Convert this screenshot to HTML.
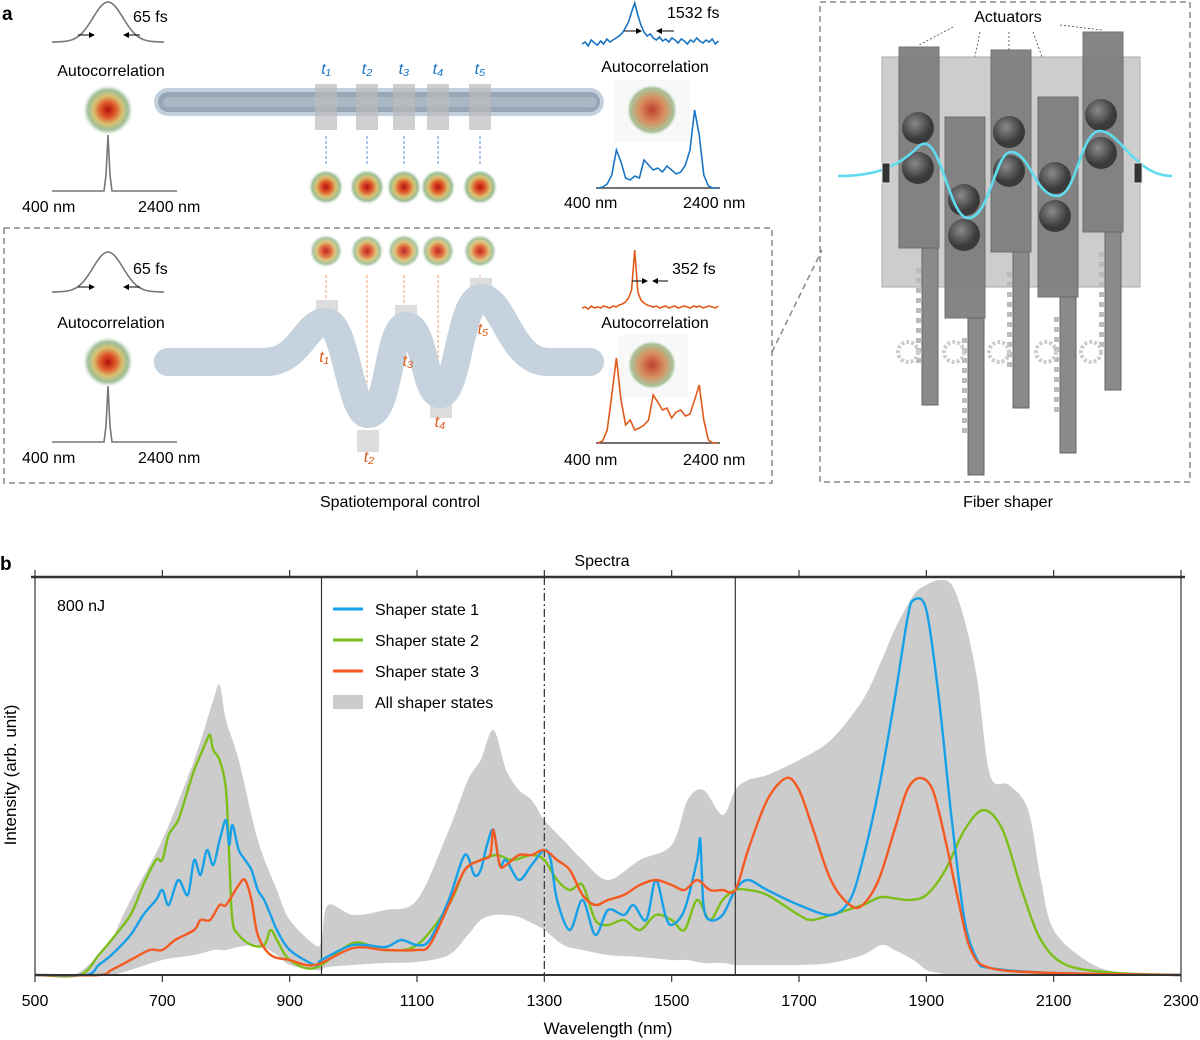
<!DOCTYPE html>
<html><head><meta charset="utf-8"><style>
html,body{margin:0;padding:0;background:#fff;}
svg{display:block;font-family:"Liberation Sans",Arial,sans-serif;}
</style></head><body>
<svg id="fig" width="1200" height="1040" viewBox="0 0 1200 1040" xmlns="http://www.w3.org/2000/svg">
<defs>
<radialGradient id="beam"><stop offset="0" stop-color="#b01010"/><stop offset="0.3" stop-color="#e05a2a"/><stop offset="0.55" stop-color="#d8c070"/><stop offset="0.78" stop-color="#9cc09a"/><stop offset="1" stop-color="#ffffff" stop-opacity="0"/></radialGradient>
<radialGradient id="speck"><stop offset="0" stop-color="#c04030"/><stop offset="0.5" stop-color="#d89060"/><stop offset="0.85" stop-color="#a8c49c"/><stop offset="1" stop-color="#ffffff" stop-opacity="0"/></radialGradient>
<radialGradient id="ball" cx="0.4" cy="0.35"><stop offset="0" stop-color="#8a8a8a"/><stop offset="1" stop-color="#3a3a3a"/></radialGradient>
<marker id="arr" markerWidth="6" markerHeight="6" refX="5" refY="3" orient="auto"><path d="M0,0 L6,3 L0,6 z" fill="#000"/></marker>
</defs>

<g>
<text x="2" y="20" font-size="19" font-weight="bold">a</text>

<g>
<path id="gA" fill="none" stroke="#777" stroke-width="1.6"/>
<line x1="78" y1="35" x2="94" y2="35" stroke="#000" marker-end="url(#arr)"/><line x1="140" y1="35" x2="124" y2="35" stroke="#000" marker-end="url(#arr)"/>
<text x="133" y="22" font-size="16">65 fs</text>
<text x="111" y="76" font-size="16" text-anchor="middle">Autocorrelation</text>
</g>
<circle cx="108" cy="110" r="26" fill="url(#beam)"/>
<g>
<path d="M52,191 L104,191 L106,175 L108,135 L110,175 L112,191 L177,191" fill="none" stroke="#777" stroke-width="1.6"/>
<text x="22" y="212" font-size="16">400 nm</text><text x="138" y="212" font-size="16">2400 nm</text>
</g>
<g>
<line x1="168" y1="102" x2="590" y2="102" stroke="#c3d0dd" stroke-width="28" stroke-linecap="round"/>
<line x1="168" y1="102" x2="590" y2="102" stroke="#97a6b5" stroke-width="20" stroke-linecap="round"/>
<line x1="168" y1="102" x2="592" y2="102" stroke="#aab8c6" stroke-width="10" stroke-linecap="round"/>
</g>
<g id="topBlocks"></g>

<g>
<path id="acBlue" fill="none" stroke="#1a74c4" stroke-width="1.6"/>
<line x1="624" y1="31" x2="641" y2="31" stroke="#000" marker-end="url(#arr)"/><line x1="674" y1="31" x2="657" y2="31" stroke="#000" marker-end="url(#arr)"/>
<text x="667" y="18" font-size="16">1532 fs</text>
<text x="655" y="72" font-size="16" text-anchor="middle">Autocorrelation</text>
</g>
<rect x="614" y="80" width="76" height="62" fill="#f3f3f3" opacity="0.6"/>
<circle cx="652" cy="110" r="26" fill="url(#speck)"/>
<g>
<line x1="596" y1="188" x2="720" y2="188" stroke="#444" stroke-width="1.4"/>
<path id="spBlue" fill="none" stroke="#1a74c4" stroke-width="1.6"/>
<text x="564" y="208" font-size="16">400 nm</text><text x="683" y="208" font-size="16">2400 nm</text>
</g>

<rect x="4" y="228" width="768" height="255" fill="none" stroke="#888" stroke-width="1.5" stroke-dasharray="6,4"/>
<text x="400" y="507" font-size="16" text-anchor="middle">Spatiotemporal control</text>
<line x1="772" y1="352" x2="822" y2="250" stroke="#888" stroke-width="1.5" stroke-dasharray="6,4"/>

<g>
<path id="gB" fill="none" stroke="#777" stroke-width="1.6"/>
<line x1="78" y1="287" x2="94" y2="287" stroke="#000" marker-end="url(#arr)"/><line x1="140" y1="287" x2="124" y2="287" stroke="#000" marker-end="url(#arr)"/>
<text x="133" y="274" font-size="16">65 fs</text>
<text x="111" y="328" font-size="16" text-anchor="middle">Autocorrelation</text>
</g>
<circle cx="108" cy="362" r="26" fill="url(#beam)"/>
<g>
<path d="M52,442 L104,442 L106,426 L108,386 L110,426 L112,442 L177,442" fill="none" stroke="#777" stroke-width="1.6"/>
<text x="22" y="463" font-size="16">400 nm</text><text x="138" y="463" font-size="16">2400 nm</text>
</g>
<g id="botBlocks"></g>
<g>
<path id="wave1" d="M168,362 L265,362 C300,362 305,322 326,322 C346,322 350,414 368,414 C390,414 388,326 406,326 C425,326 424,394 440,394 C458,394 460,298 481,298 C504,298 510,362 548,362 L590,362" fill="none" stroke="#c6d3df" stroke-width="28" stroke-linecap="round"/>
<use href="#wave1" stroke="#9babbb" stroke-width="20"/>
<use href="#wave1" stroke="#bccad6" stroke-width="10"/>
</g>
<g id="botLabels"></g>

<g>
<path id="acOr" fill="none" stroke="#e05a1a" stroke-width="1.6"/>
<line x1="632" y1="281" x2="647" y2="281" stroke="#000" marker-end="url(#arr)"/><line x1="668" y1="281" x2="653" y2="281" stroke="#000" marker-end="url(#arr)"/>
<text x="672" y="274" font-size="16">352 fs</text>
<text x="655" y="328" font-size="16" text-anchor="middle">Autocorrelation</text>
</g>
<rect x="618" y="335" width="70" height="62" fill="#f3f3f3" opacity="0.6"/>
<circle cx="652" cy="365" r="25" fill="url(#speck)"/>
<g>
<line x1="596" y1="443" x2="720" y2="443" stroke="#444" stroke-width="1.4"/>
<path id="spOr" fill="none" stroke="#e05a1a" stroke-width="1.6"/>
<text x="564" y="465" font-size="16">400 nm</text><text x="683" y="465" font-size="16">2400 nm</text>
</g>

<g>
<rect x="820" y="2" width="370" height="480" fill="none" stroke="#888" stroke-width="1.5" stroke-dasharray="6,4"/>
<text x="1008" y="22" font-size="16" text-anchor="middle">Actuators</text>
<path d="M953,27 L919,45 M980,32 L963,115 M1009,32 L1009,50 M1033,32 L1056,96 M1060,25 L1102,30" stroke="#444" stroke-width="0.8" stroke-dasharray="2,2" fill="none"/>
<rect x="882" y="57" width="258" height="230" fill="#cdcdcd" stroke="#aaa"/>
<g id="shaper"></g>
<path d="M838,176 C870,176 895,170 918,147 C940,125 948,218 968,218 C990,218 995,152 1011,152 C1030,152 1035,196 1057,196 C1077,196 1080,131 1100,131 C1120,131 1135,176 1172,176" fill="none" stroke="#5fdcef" stroke-width="2.6"/>
<rect x="882" y="163" width="8" height="20" fill="#333" stroke="#ddd"/><rect x="1134" y="163" width="8" height="20" fill="#333" stroke="#ddd"/>
<text x="1008" y="507" font-size="16" text-anchor="middle">Fiber shaper</text>
</g>
</g>

<g id="chart">
<text x="0" y="570" font-size="19" font-weight="bold">b</text>
<text x="602" y="566" font-size="16" text-anchor="middle">Spectra</text>
<g id="bandG"></g>
<g id="linesG"></g>
<g id="axesG"></g>
<text x="57" y="611" font-size="16">800 nJ</text>
<g>
<g><line x1="333" y1="609" x2="363" y2="609" stroke="#16a0e8" stroke-width="3"/><text x="375" y="615" font-size="16">Shaper state 1</text></g>
<g><line x1="333" y1="640" x2="363" y2="640" stroke="#7dbf1a" stroke-width="3"/><text x="375" y="646" font-size="16">Shaper state 2</text></g>
<g><line x1="333" y1="671" x2="363" y2="671" stroke="#f55a22" stroke-width="3"/><text x="375" y="677" font-size="16">Shaper state 3</text></g>
<g><rect x="333" y="695" width="30" height="14" fill="#cccccc"/><text x="375" y="708" font-size="16">All shaper states</text></g>
</g>
<text x="608" y="1034" font-size="17" text-anchor="middle">Wavelength (nm)</text>
<text transform="translate(16,775) rotate(-90)" font-size="17" text-anchor="middle">Intensity (arb. unit)</text>
</g>
</svg>
<script>
const xTicks = [500,700,900,1100,1300,1500,1700,1900,2100,2300];
const markerLines = [950,1300,1600];
const bandWl = [500,560,600,620,650,700,750,780,790,800,820,850,880,900,940,950,960,1000,1050,1100,1150,1180,1200,1220,1240,1260,1280,1300,1330,1360,1400,1450,1500,1525,1550,1580,1600,1620,1650,1700,1750,1800,1830,1850,1880,1900,1920,1940,1960,1980,2000,2030,2060,2080,2100,2150,2200,2300];
const bandUpper = [0,0,20,35,75,135,215,275,290,255,215,135,85,55,30,35,70,60,65,75,145,195,215,245,205,185,175,155,135,115,95,115,130,175,185,160,185,195,200,215,235,275,315,345,380,390,395,390,355,295,200,190,165,95,45,15,3,0];
const bandLower = [0,0,0,0,5,15,20,25,25,25,28,30,20,10,5,5,8,10,12,13,20,40,55,60,60,58,52,45,30,25,20,18,15,15,12,12,10,10,10,10,12,20,30,25,15,5,2,0,0,0,0,0,0,0,0,0,0,0];
const s1Wl = [500,580,600,620,650,670,690,700,710,725,740,750,760,770,780,790,800,805,810,820,830,840,850,860,870,880,900,940,950,1000,1050,1075,1100,1120,1150,1175,1190,1200,1210,1220,1230,1240,1260,1280,1300,1310,1320,1340,1360,1380,1400,1425,1440,1460,1475,1490,1500,1520,1540,1545,1550,1560,1580,1600,1620,1650,1700,1750,1780,1800,1825,1850,1870,1880,1900,1920,1940,1960,1980,2000,2100,2300];
const s1Val = [0,0,10,20,40,60,75,85,70,95,80,115,100,125,110,135,155,130,150,125,115,105,85,75,60,45,25,10,15,30,28,35,30,35,75,120,100,105,130,145,110,115,95,110,125,115,75,45,75,40,65,60,70,55,95,60,50,65,115,135,70,55,60,85,95,85,70,60,75,115,185,275,355,375,365,275,155,55,15,7,2,0];
const s2Wl = [500,570,600,620,650,670,690,700,710,725,740,750,760,770,775,780,790,800,805,810,820,840,860,870,880,900,940,1000,1050,1100,1150,1175,1200,1225,1250,1280,1300,1320,1340,1360,1380,1400,1425,1450,1475,1500,1520,1540,1560,1580,1600,1620,1650,1700,1720,1750,1800,1830,1870,1900,1930,1960,1990,2020,2050,2080,2120,2200,2300];
const s2Val = [0,0,20,35,60,90,115,115,140,155,185,205,220,235,240,225,215,185,120,55,40,30,30,45,35,15,7,32,25,30,70,105,115,120,115,120,115,95,85,90,55,50,55,45,60,55,45,75,55,75,85,85,80,60,55,60,70,78,75,80,105,145,165,145,85,35,10,2,0];
const s3Wl = [500,600,620,650,680,700,720,750,760,775,790,800,820,830,840,850,870,900,940,1000,1050,1100,1120,1150,1175,1200,1215,1220,1230,1240,1260,1280,1300,1320,1340,1360,1380,1400,1425,1450,1475,1500,1520,1540,1560,1580,1600,1620,1650,1680,1700,1720,1750,1780,1800,1825,1850,1870,1890,1910,1930,1950,1970,2000,2100,2300];
const s3Val = [0,0,5,15,25,25,35,45,55,55,70,70,90,95,75,40,20,15,10,27,25,25,30,70,105,115,120,145,110,110,120,120,125,115,105,80,70,75,80,90,95,90,85,95,85,85,85,125,175,197,185,150,95,70,70,95,145,185,197,185,135,75,25,7,2,0];

const NS='http://www.w3.org/2000/svg';
const X0=35,X1=1181,Y0=975,YT=577;
const xScale=w=>X0+(w-500)/(2300-500)*(X1-X0);
const yScale=v=>Y0-v*1.0;
function mk(tag,attrs,parent){const e=document.createElementNS(NS,tag);for(const k in attrs)e.setAttribute(k,attrs[k]);parent.appendChild(e);return e;}
// monotone-ish smooth path (catmull-rom, clamped)
function smooth(p,start){
  let d=start?('M'+p[0][0].toFixed(1)+','+p[0][1].toFixed(1)):('L'+p[0][0].toFixed(1)+','+p[0][1].toFixed(1));
  for(let i=0;i<p.length-1;i++){
    const p0=p[Math.max(0,i-1)],p1=p[i],p2=p[i+1],p3=p[Math.min(p.length-1,i+2)];
    const t=0.16;
    let c1y=p1[1]+(p2[1]-p0[1])*t, c2y=p2[1]-(p3[1]-p1[1])*t;
    const lo=Math.min(p1[1],p2[1]),hi=Math.max(p1[1],p2[1]);
    c1y=Math.max(lo-15,Math.min(hi+15,c1y)); c2y=Math.max(lo-15,Math.min(hi+15,c2y));
    const c1x=p1[0]+(p2[0]-p0[0])*t, c2x=p2[0]-(p3[0]-p1[0])*t;
    d+='C'+c1x.toFixed(1)+','+c1y.toFixed(1)+' '+c2x.toFixed(1)+','+c2y.toFixed(1)+' '+p2[0].toFixed(1)+','+p2[1].toFixed(1);
  }
  return d;
}

const band=document.getElementById('bandG');
const up=bandWl.map((w,i)=>[xScale(w),Math.min(Y0,yScale(bandUpper[i]))]);
const lo=bandWl.map((w,i)=>[xScale(w),Math.min(Y0,yScale(bandLower[i]))]).reverse();
const bp=mk('path',{d:smooth(up,true)+smooth(lo,false)+'Z',fill:'#cccccc'},band);



const axes=document.getElementById('axesG');
markerLines.forEach(w=>{
  const l=mk('line',{x1:xScale(w),x2:xScale(w),y1:YT,y2:Y0,stroke:'#333','stroke-width':1.2},band);
  if(w===1300)l.setAttribute('stroke-dasharray','8,3,2,3');
  
  
});

const lines=document.getElementById('linesG');
[[s2Wl,s2Val,'#7dbf1a','state-2'],[s1Wl,s1Val,'#16a0e8','state-1'],[s3Wl,s3Val,'#f55a22','state-3']].forEach(s=>{
  const pts=s[0].map((w,i)=>[xScale(w),yScale(s[1][i])]);
  const p=mk('path',{d:smooth(pts,true),fill:'none',stroke:s[2],'stroke-width':2.4,'stroke-linejoin':'round'},lines);
  
  
});

mk('line',{x1:X0,x2:X1,y1:Y0,y2:Y0,stroke:'#333','stroke-width':2},axes);
mk('line',{x1:X0-4,x2:X1+4,y1:YT,y2:YT,stroke:'#333','stroke-width':2.5},axes);
mk('line',{x1:X0,x2:X0,y1:YT,y2:Y0,stroke:'#333','stroke-width':1.2},axes);
mk('line',{x1:X1,x2:X1,y1:YT,y2:Y0,stroke:'#333','stroke-width':1.2},axes);
xTicks.forEach(t=>{
  const x=xScale(t);
  mk('line',{x1:x,x2:x,y1:Y0,y2:Y0+7,stroke:'#333','stroke-width':1.2},axes);
  mk('line',{x1:x,x2:x,y1:YT,y2:YT-7,stroke:'#333','stroke-width':1.2},axes);
  const tx=mk('text',{x:x,y:Y0+31,'font-size':16,'text-anchor':'middle'},axes);
  tx.textContent=t;
  
  
});

function gauss(id,x0,x1,xc,sig,base,h){let d='';for(let x=x0;x<=x1;x+=2){const y=base-h*Math.exp(-((x-xc)**2)/(2*sig*sig));d+=(d?'L':'M')+x+','+y.toFixed(1);}document.getElementById(id).setAttribute('d',d);}
gauss('gA',52,165,108,15,42,40);
gauss('gB',52,165,108,15,292,40);
const acB=[44,42,46,40,43,45,41,44,39,42,40,38,36,33,28,22,12,3,15,25,32,36,34,38,40,37,41,39,42,38,40,43,39,41,44,40,42,38,41,43,40,42,39,44,41];
document.getElementById('acBlue').setAttribute('d',acB.map((y,i)=>(i?'L':'M')+(582+i*3.1)+','+y).join(''));
const acO=[308,307,309,306,308,307,308,306,307,308,306,307,305,304,302,298,290,250,292,300,303,305,306,307,306,308,307,306,308,307,306,308,307,306,307,308,306,307,306,308,307,306,307,308,306];
document.getElementById('acOr').setAttribute('d',acO.map((y,i)=>(i?'L':'M')+(582+i*3.1)+','+y).join(''));
const spB=[188,187,184,175,150,162,178,180,176,178,160,165,170,168,172,166,170,174,172,165,150,110,135,175,186,188,188];
document.getElementById('spBlue').setAttribute('d',spB.map((y,i)=>(i?'L':'M')+(598+i*4.6)+','+y).join(''));
const spO=[443,441,430,395,358,400,425,420,430,428,425,420,395,402,410,408,418,412,410,416,414,400,385,420,440,443,443];
document.getElementById('spOr').setAttribute('d',spO.map((y,i)=>(i?'L':'M')+(598+i*4.6)+','+y).join(''));

const tb=document.getElementById('topBlocks');
const cx=[326,367,404,438,480];
const sub=['₁','₂','₃','₄','₅'];
cx.forEach((x,i)=>{
  mk('rect',{x:x-11,y:84,width:22,height:46,fill:'#bbbbbb',opacity:0.7},tb);
  mk('line',{x1:x,x2:x,y1:136,y2:166,stroke:'#5b8fd6','stroke-dasharray':'3,2'},tb);
  mk('circle',{cx:x,cy:187,r:18,fill:'url(#beam)'},tb);
  const t=mk('text',{x:x,y:74,'font-size':16,fill:'#1a74c4','font-style':'italic','text-anchor':'middle'},tb);t.textContent='t'+sub[i];
  mk('circle',{cx:x,cy:251,r:17,fill:'url(#beam)',opacity:0.9},document.getElementById('botBlocks'));
});
const bb=document.getElementById('botBlocks');
const by=[[316,300],[357,430],[395,305],[430,396],[470,278]];
by.forEach((b,i)=>{
  mk('rect',{x:b[0],y:b[1],width:22,height:22,fill:'#dddddd'},bb);
  mk('line',{x1:cx[i],x2:cx[i],y1:275,y2:b[1],stroke:'#f0a070','stroke-dasharray':'3,2'},bb);
});
const bl=document.getElementById('botLabels');
[[324,362],[369,462],[408,366],[440,427],[483,334]].forEach((p,i)=>{
  const t=mk('text',{x:p[0],y:p[1],'font-size':16,fill:'#e05a1a','font-style':'italic','text-anchor':'middle'},bl);t.textContent='t'+sub[i];
});

const sh=document.getElementById('shaper');
const bars=[[899,47,248,922,405],[945,117,318,968,475],[991,50,252,1013,408],[1038,97,297,1060,453],[1083,32,232,1105,390]];
const balls=[[918,128,168],[964,200,235],[1009,132,171],[1055,178,216],[1101,115,153]];
bars.forEach((b,i)=>{
  mk('rect',{x:b[3],y:b[2],width:16,height:b[4]-b[2],fill:'#8a8a8a',stroke:'#666'},sh);
  for(let y=b[2]+20;y<b[4]-40;y+=10)mk('rect',{x:b[3]-6,y:y,width:5,height:5,fill:'#bbb'},sh);
  mk('circle',{cx:b[3]-14,cy:352,r:10,fill:'none',stroke:'#ccc','stroke-width':4,'stroke-dasharray':'3,2'},sh);
  mk('rect',{x:b[0],y:b[1],width:40,height:b[2]-b[1],fill:'#7c7c7c',stroke:'#666',opacity:0.92},sh);
  mk('circle',{cx:balls[i][0],cy:balls[i][1],r:16,fill:'url(#ball)'},sh);
  mk('circle',{cx:balls[i][0],cy:balls[i][2],r:16,fill:'url(#ball)'},sh);
});
</script>
</body></html>
